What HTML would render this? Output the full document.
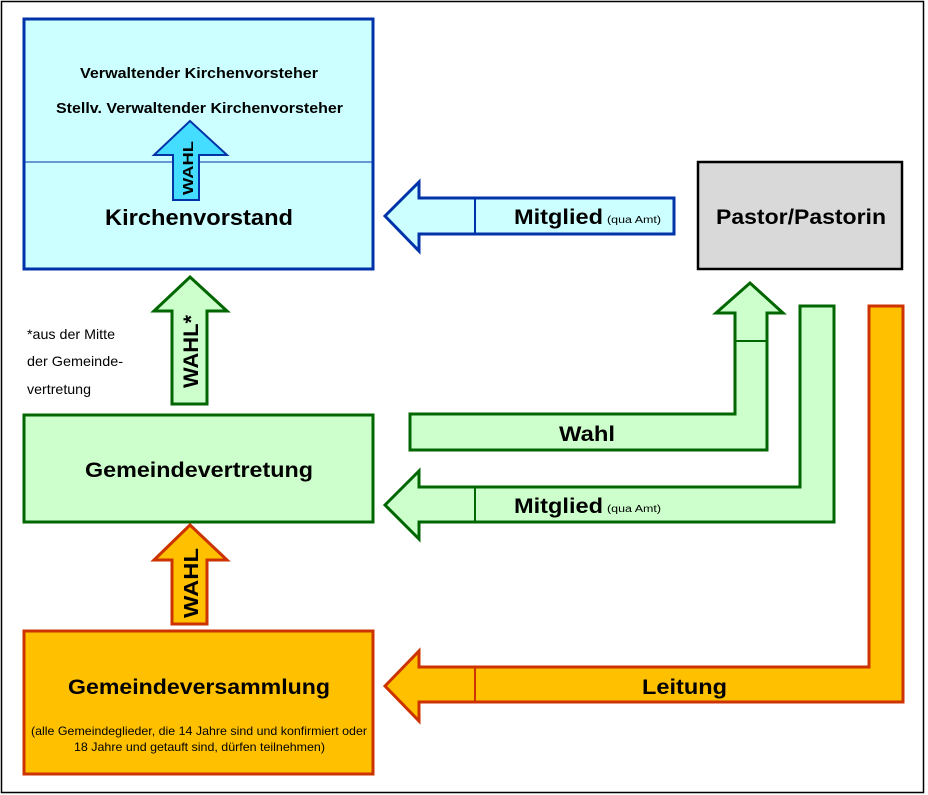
<!DOCTYPE html>
<html><head><meta charset="utf-8"><style>
html,body{margin:0;padding:0;background:#fff}
svg{display:block}
text{font-family:"Liberation Sans",Arial,sans-serif;font-weight:bold;fill:#000}
text.n{font-weight:normal}
</style></head><body>
<svg width="928" height="795" viewBox="0 0 928 795" xmlns="http://www.w3.org/2000/svg">
<rect x="1.5" y="1.5" width="922" height="791" fill="#fff" stroke="#000" stroke-width="1.5"/>

<rect x="24" y="19" width="349" height="250" fill="#ccffff" stroke="#0033aa" stroke-width="3"/>
<line x1="24" y1="162" x2="373" y2="162" stroke="#0033aa" stroke-width="1"/>
<text x="80" y="78" font-size="15" textLength="238" lengthAdjust="spacingAndGlyphs">Verwaltender Kirchenvorsteher</text>
<text x="56" y="113" font-size="15" textLength="287" lengthAdjust="spacingAndGlyphs">Stellv. Verwaltender Kirchenvorsteher</text>
<polygon points="190,121 227,155 199,155 199,200 173,200 173,155 154,155" fill="#44ddff" stroke="#0033aa" stroke-width="2"/>
<text transform="translate(193,195) rotate(-90)" font-size="15" textLength="54" lengthAdjust="spacingAndGlyphs">WAHL</text>
<text x="105" y="225" font-size="22" textLength="188" lengthAdjust="spacingAndGlyphs">Kirchenvorstand</text>

<polygon points="385,216 419,182 419,198 674,198 674,234 419,234 419,251" fill="#ccffff" stroke="#0033aa" stroke-width="3"/>
<line x1="475" y1="198" x2="475" y2="234" stroke="#0033aa" stroke-width="2"/>
<text x="514" y="224" font-size="21" textLength="89" lengthAdjust="spacingAndGlyphs">Mitglied</text>
<text class="n" x="607" y="223" font-size="10" textLength="54" lengthAdjust="spacingAndGlyphs">(qua Amt)</text>

<rect x="698" y="162" width="204" height="107" fill="#d9d9d9" stroke="#000" stroke-width="2.5"/>
<text x="716" y="224" font-size="21" textLength="170" lengthAdjust="spacingAndGlyphs">Pastor/Pastorin</text>

<polygon points="190,277 227,311 207,311 207,404 172,404 172,311 154,311" fill="#ccffcc" stroke="#006600" stroke-width="3"/>
<text transform="translate(198,388) rotate(-90)" font-size="21" textLength="73" lengthAdjust="spacingAndGlyphs">WAHL*</text>
<text class="n" x="27" y="339" font-size="14" textLength="88" lengthAdjust="spacingAndGlyphs">*aus der Mitte</text>
<text class="n" x="27" y="366" font-size="14" textLength="96" lengthAdjust="spacingAndGlyphs">der Gemeinde-</text>
<text class="n" x="27" y="394" font-size="14" textLength="64" lengthAdjust="spacingAndGlyphs">vertretung</text>

<rect x="24" y="415" width="349" height="107" fill="#ccffcc" stroke="#006600" stroke-width="3"/>
<text x="85" y="477" font-size="21" textLength="228" lengthAdjust="spacingAndGlyphs">Gemeindevertretung</text>

<polygon points="410,414 735,414 735,313 716,313 750,283 783,313 767,313 767,450 410,450" fill="#ccffcc" stroke="#006600" stroke-width="3"/>
<line x1="735" y1="341" x2="767" y2="341" stroke="#006600" stroke-width="2"/>
<text x="559" y="441" font-size="21" textLength="56" lengthAdjust="spacingAndGlyphs">Wahl</text>

<polygon points="385,505 419,471 419,487 800,487 800,306 834,306 834,522 419,522 419,539" fill="#ccffcc" stroke="#006600" stroke-width="3"/>
<line x1="475" y1="487" x2="475" y2="522" stroke="#006600" stroke-width="2"/>
<text x="514" y="513" font-size="21" textLength="89" lengthAdjust="spacingAndGlyphs">Mitglied</text>
<text class="n" x="607" y="512" font-size="10" textLength="54" lengthAdjust="spacingAndGlyphs">(qua Amt)</text>

<polygon points="385,686 419,651 419,667 869,667 869,306 903,306 903,702 419,702 419,721" fill="#ffc000" stroke="#cc3300" stroke-width="3"/>
<line x1="475" y1="667" x2="475" y2="702" stroke="#cc3300" stroke-width="2"/>
<text x="642" y="694" font-size="21" textLength="85" lengthAdjust="spacingAndGlyphs">Leitung</text>

<polygon points="190,525 227,560 207,560 207,624 172,624 172,560 154,560" fill="#ffc000" stroke="#cc3300" stroke-width="3"/>
<text transform="translate(198,618) rotate(-90)" font-size="20" textLength="70" lengthAdjust="spacingAndGlyphs">WAHL</text>

<rect x="24" y="631" width="349" height="143" fill="#ffc000" stroke="#cc3300" stroke-width="3"/>
<text x="68" y="694" font-size="21" textLength="262" lengthAdjust="spacingAndGlyphs">Gemeindeversammlung</text>
<text class="n" x="31" y="735" font-size="12" textLength="336" lengthAdjust="spacingAndGlyphs">(alle Gemeindeglieder, die 14 Jahre sind und konfirmiert oder</text>
<text class="n" x="74" y="751" font-size="12" textLength="251" lengthAdjust="spacingAndGlyphs">18 Jahre und getauft sind, dürfen teilnehmen)</text>
</svg>
</body></html>
